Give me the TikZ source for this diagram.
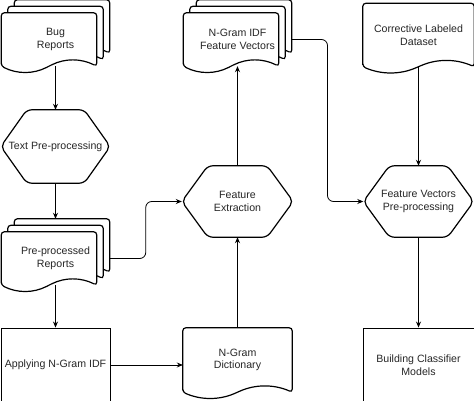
\documentclass[tikz,border=0pt]{standalone}
\usepackage{fontspec}
\setmainfont{Liberation Sans}
\usetikzlibrary{arrows.meta,calc,backgrounds}

\tikzset{
  lbl/.style={inner sep=0pt, align=center, font=\fontsize{10.6pt}{12.5pt}\selectfont, text=black!85},
  procbox/.style={lbl, draw, line width=0.9pt},
  shapeline/.style={line width=1.2pt, rounded corners=3pt},
  docline/.style={shapeline, fill=white},
  flow/.style={-{Stealth[length=6pt,width=5pt]}, line width=0.8pt},
}

% one sheet of a document shape, shifted up-right by #2, right side pulled in by #3
\newcommand\doclayer[3]{%
  \begin{pgfonlayer}{background}
  \draw[docline] let \p1=([shift={(#2pt,#2pt)}]#1.south west),
      \p2=([shift={(#2pt-#3pt,#2pt)}]#1.north east), \n1={(\x2-\x1)/6} in
    (\p1) -- (\x1,\y2) -- (\p2) -- (\x2,\y1)
    .. controls (\x2-\n1,\y1+8pt) and (\x2-2*\n1,\y1+8pt) .. (\x2-3*\n1,\y1)
    .. controls (\x2-4*\n1,\y1-8pt) and (\x2-5*\n1,\y1-8pt) .. (\p1) -- cycle;
  \end{pgfonlayer}}
\newcommand\docstack[1]{\doclayer{#1}{13}{13}\doclayer{#1}{6.5}{13}\doclayer{#1}{0}{13}}
\newcommand\hexline[1]{%
  \draw[shapeline, rounded corners=5pt] (#1.west) -- ([xshift=26pt]#1.north west) -- ([xshift=-26pt]#1.north east)
    -- (#1.east) -- ([xshift=-26pt]#1.south east) -- ([xshift=26pt]#1.south west) -- cycle;}

\begin{document}
\begin{tikzpicture}[x=1pt,y=-1pt]
\useasboundingbox (0,0) rectangle (474,401);

% left column
\node[lbl, minimum width=108pt, minimum height=53pt] (bug) at (55.5,39.5) {Bug\\Reports};
\node[lbl, minimum width=109pt, minimum height=73pt] (tpp) at (55.5,146.5) {Text Pre-processing};
\node[lbl, minimum width=108pt, minimum height=53pt] (prep) at (55.5,258.5) {Pre-processed\\Reports};
\node[procbox, minimum width=109pt, minimum height=74pt] (apply) at (55.5,365) {Applying N-Gram IDF};
% middle column
\node[lbl, minimum width=108pt, minimum height=53pt] (fv) at (237.5,39.5) {N-Gram IDF\\Feature Vectors};
\node[lbl, minimum width=111pt, minimum height=71pt] (fext) at (237.5,201.5) {Feature\\Extraction};
\node[lbl, minimum width=109pt, minimum height=64pt] (dict) at (237.5,360) {N-Gram\\Dictionary};
% right column
\node[lbl, minimum width=111pt, minimum height=63pt] (cld) at (418.5,35) {Corrective Labeled\\Dataset};
\node[lbl, minimum width=110pt, minimum height=71pt] (fvp) at (418.5,201.5) {Feature Vectors\\Pre-processing};
\node[procbox, minimum width=111pt, minimum height=74pt] (bcm) at (418.5,365) {Building Classifier\\Models};

\docstack{bug}
\docstack{prep}
\docstack{fv}
\doclayer{dict}{0}{0}
\doclayer{cld}{0}{0}
\hexline{tpp}
\hexline{fext}
\hexline{fvp}

\draw[flow] (bug) -- (tpp);
\draw[flow] (tpp) -- ([yshift=13pt]prep.north);
\draw[flow] (prep) -- (apply);
\draw[flow] (apply) -- (apply -| dict.west);
\draw[flow] (dict) -- (fext);
\draw[flow, rounded corners=6pt] (prep.east) -| ($(prep.east)!0.5!(fext.west)$) |- (fext.west);
\draw[flow] (fext) -- (fv);
\draw[flow, rounded corners=6pt] (fv.east) -| ($(fv.east)!0.5!(fvp.west)$) |- (fvp.west);
\draw[flow] (cld) -- (fvp);
\draw[flow] (fvp) -- (bcm);
\end{tikzpicture}
\end{document}
